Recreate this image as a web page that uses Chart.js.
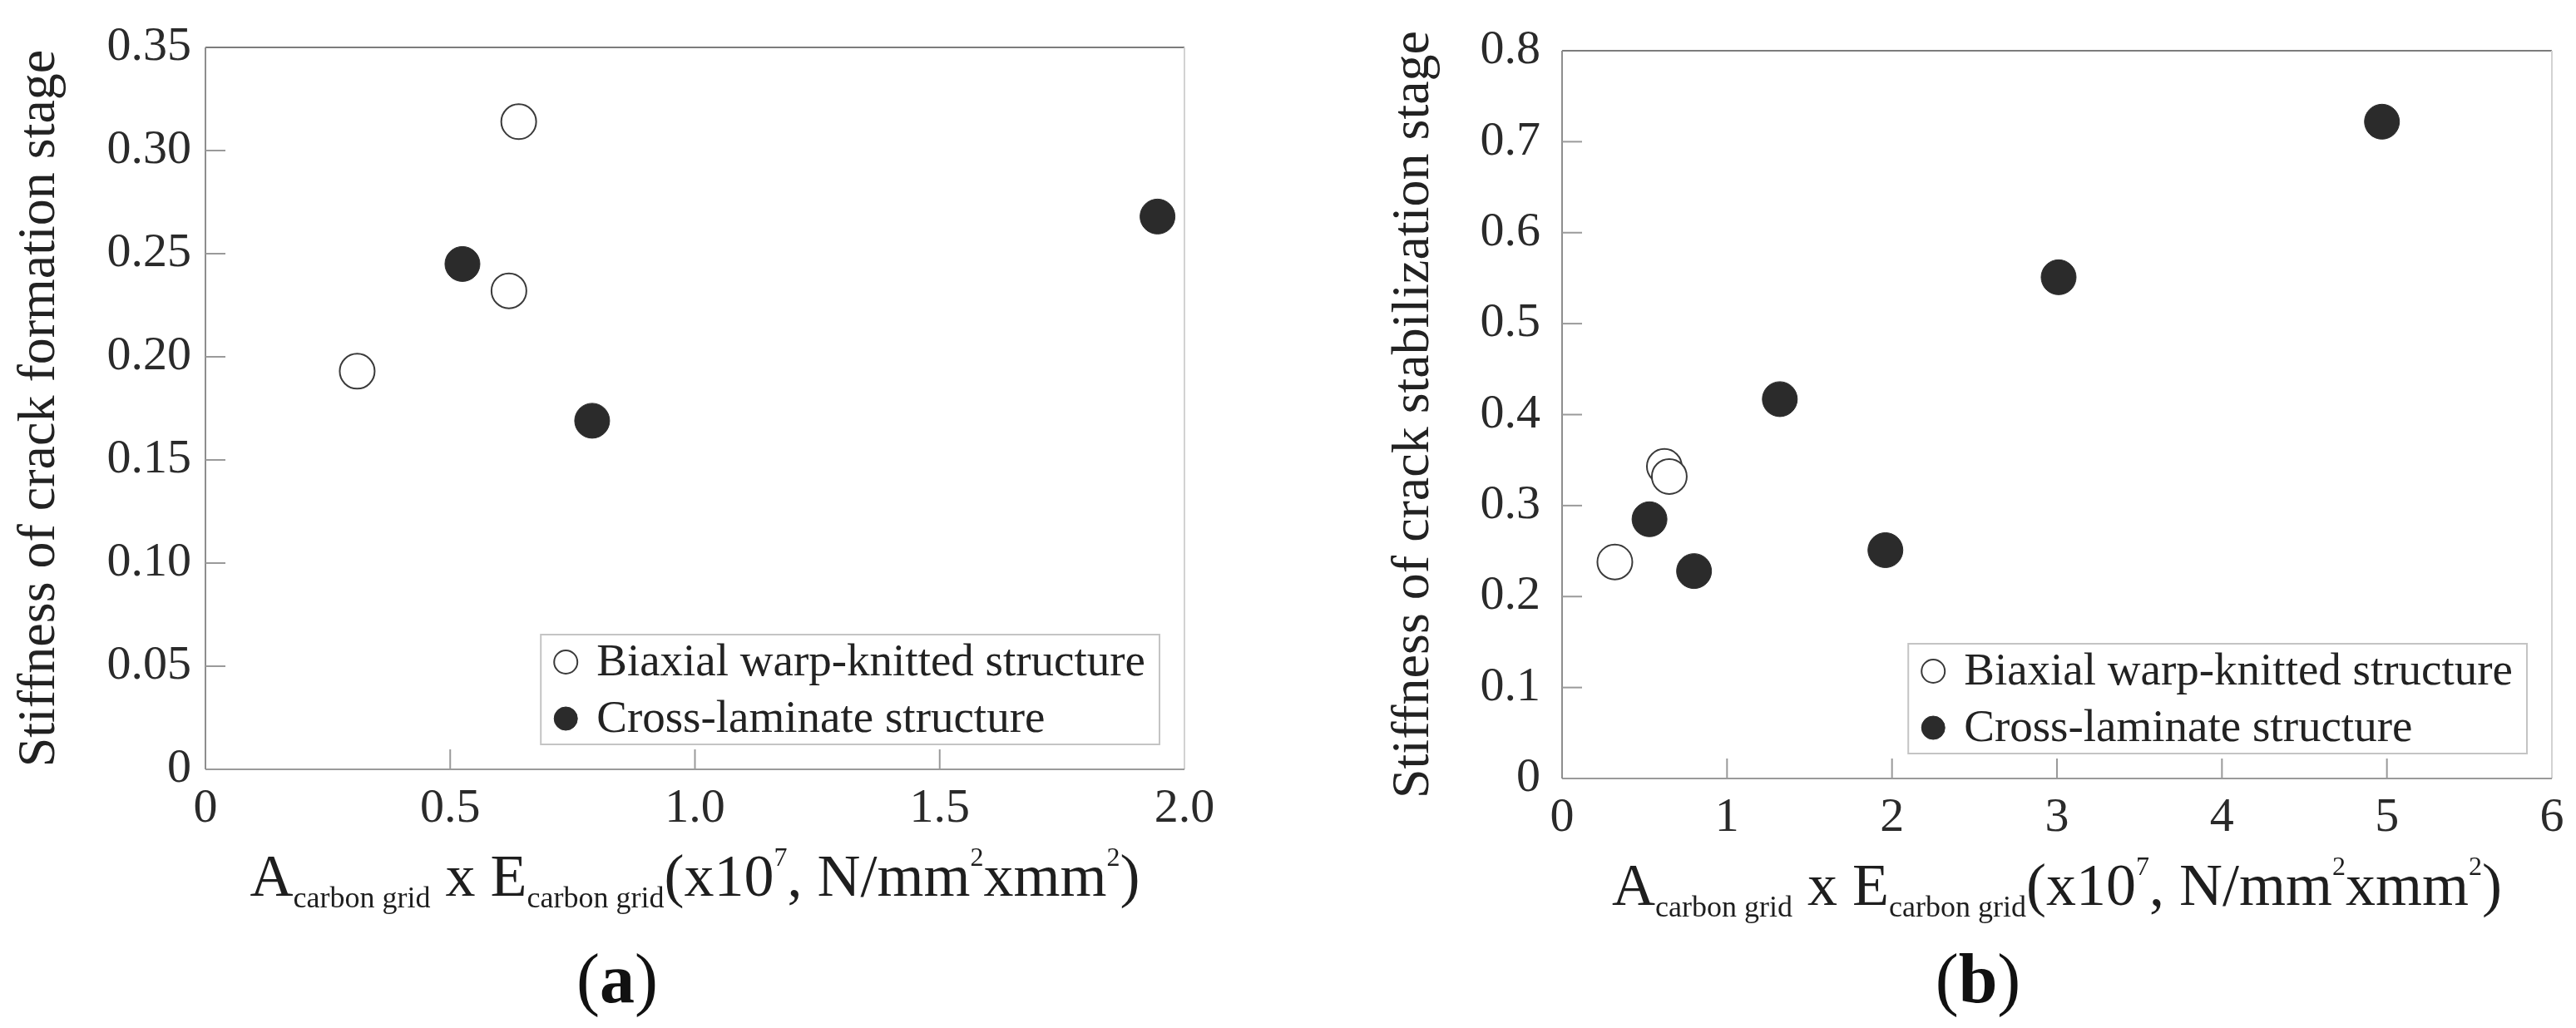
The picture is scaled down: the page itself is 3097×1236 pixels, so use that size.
<!DOCTYPE html>
<html>
<head>
<meta charset="utf-8">
<script src="https://cdn.jsdelivr.net/npm/chart.js@4.4.1/dist/chart.umd.min.js"></script>
<style>
  html, body { margin: 0; padding: 0; background: #fff; }
  #wrapA { position: absolute; left: 0; top: 0; width: 1548px; height: 1236px; }
  #wrapB { position: absolute; left: 1548px; top: 0; width: 1549px; height: 1236px; }
</style>
</head>
<body>
<div id="wrapA"><canvas id="chartA"></canvas></div>
<div id="wrapB"><canvas id="chartB"></canvas></div>
<script>
// series labels
const seriesNames = ['Biaxial warp-knitted structure', 'Cross-laminate structure'];

// panel (a): stiffness of crack formation stage
const biaxAx = [0.31, 0.62, 0.64];
const biaxAy = [0.193, 0.232, 0.314];
const crossAx = [0.525, 0.79, 1.945];
const crossAy = [0.245, 0.169, 0.268];

// panel (b): stiffness of crack stabilization stage
const biaxBx = [0.32, 0.62, 0.65];
const biaxBy = [0.238, 0.343, 0.332];
const crossBx = [0.53, 0.80, 1.32, 1.96, 3.01, 4.97];
const crossBy = [0.285, 0.228, 0.417, 0.251, 0.551, 0.722];

// tick values / labels
const xTickValsA = [0, 0.5, 1.0, 1.5, 2.0];
const xTickLabelsA = ['0', '0.5', '1.0', '1.5', '2.0'];
const yTickValsA = [0, 0.05, 0.10, 0.15, 0.20, 0.25, 0.30, 0.35];
const yTickLabelsA = ['0', '0.05', '0.10', '0.15', '0.20', '0.25', '0.30', '0.35'];
const xTickValsB = [0, 1, 2, 3, 4, 5, 6];
const xTickLabelsB = ['0', '1', '2', '3', '4', '5', '6'];
const yTickValsB = [0, 0.1, 0.2, 0.3, 0.4, 0.5, 0.6, 0.7, 0.8];
const yTickLabelsB = ['0', '0.1', '0.2', '0.3', '0.4', '0.5', '0.6', '0.7', '0.8'];

const serif = '"Liberation Serif", "Times New Roman", serif';

function points(xs, ys) {
  return xs.map((x, i) => ({ x: x, y: ys[i] }));
}

function openSet(xs, ys) {
  return {
    label: seriesNames[0],
    data: points(xs, ys),
    pointRadius: 21,
    pointHoverRadius: 21,
    backgroundColor: '#ffffff',
    borderColor: '#3a3a3a',
    borderWidth: 2
  };
}

function filledSet(xs, ys) {
  return {
    label: seriesNames[1],
    data: points(xs, ys),
    pointRadius: 21,
    pointHoverRadius: 21,
    backgroundColor: '#2b2b2b',
    borderColor: '#2b2b2b',
    borderWidth: 1
  };
}

// draws the box frame, inward ticks, legend, x title with sub/superscripts and the panel letter
function panelPlugin(p) {
  return {
    id: 'panel' + p.letter,
    beforeDatasetsDraw(chart) {
      const ctx = chart.ctx, a = chart.chartArea;
      const xs = chart.scales.x, ys = chart.scales.y;
      ctx.save();
      ctx.lineWidth = 2;
      function seg(c, x1, y1, x2, y2) {
        ctx.strokeStyle = c;
        ctx.beginPath(); ctx.moveTo(x1, y1); ctx.lineTo(x2, y2); ctx.stroke();
      }
      seg('#7c7c7c', a.left, a.top, a.right, a.top);
      seg('#d2d2d2', a.right, a.top, a.right, a.bottom);
      seg('#9a9a9a', a.left, a.bottom, a.right, a.bottom);
      seg('#8e8e8e', a.left, a.top, a.left, a.bottom);
      xs.ticks.forEach(t => {
        if (t.value > xs.min && t.value < xs.max) {
          const px = xs.getPixelForValue(t.value);
          seg('#9a9a9a', px, a.bottom, px, a.bottom - 24);
        }
      });
      ys.ticks.forEach(t => {
        if (t.value > ys.min && t.value < ys.max) {
          const py = ys.getPixelForValue(t.value);
          seg('#9a9a9a', a.left, py, a.left + 24, py);
        }
      });
      ctx.restore();
    },
    afterDraw(chart) {
      const ctx = chart.ctx, a = chart.chartArea;
      ctx.save();

      // legend
      ctx.font = '55px ' + serif;
      const sets = chart.data.datasets;
      const tw = Math.max.apply(null, sets.map(d => ctx.measureText(d.label).width));
      const boxW = 30 + 37 + tw + 17;
      const boxH = 33 + 68 + 31;
      const bx = a.right - 30 - boxW, by = a.bottom - 30 - boxH;
      ctx.strokeStyle = '#c4c4c4';
      ctx.lineWidth = 2;
      ctx.strokeRect(bx, by, boxW, boxH);
      sets.forEach((d, i) => {
        const cy = by + 33 + i * 68;
        ctx.beginPath();
        ctx.arc(bx + 30, cy, 14, 0, Math.PI * 2);
        ctx.fillStyle = d.backgroundColor;
        ctx.fill();
        ctx.lineWidth = d.borderWidth;
        ctx.strokeStyle = d.borderColor;
        ctx.stroke();
        ctx.fillStyle = '#222';
        ctx.textAlign = 'left';
        ctx.textBaseline = 'middle';
        ctx.fillText(d.label, bx + 67, cy + 2);
      });

      // x axis title
      const parts = [
        ['A', 'm'], ['carbon grid', 'sub'], [' x E', 'm'], ['carbon grid', 'sub'],
        ['(x10', 'm'], ['7', 'sup'], [', N/mm', 'm'], ['2', 'sup'], ['xmm', 'm'], ['2', 'sup'], [')', 'm']
      ];
      const size = { m: 72, sub: 36, sup: 32 };
      const shift = { m: 0, sub: 14, sup: -36 };
      let total = 0;
      parts.forEach(q => { ctx.font = size[q[1]] + 'px ' + serif; total += ctx.measureText(q[0]).width; });
      let x = (a.left + a.right) / 2 - total / 2;
      const base = a.bottom + 152;
      ctx.fillStyle = '#1e1e1e';
      ctx.textAlign = 'left';
      ctx.textBaseline = 'alphabetic';
      parts.forEach(q => {
        ctx.font = size[q[1]] + 'px ' + serif;
        ctx.fillText(q[0], x, base + shift[q[1]]);
        x += ctx.measureText(q[0]).width;
      });

      // panel letter
      const lab = [['(', 'normal'], [p.letter, 'bold'], [')', 'normal']];
      let lw = 0;
      lab.forEach(q => { ctx.font = q[1] + ' 84px ' + serif; lw += ctx.measureText(q[0]).width; });
      let lx = p.labelX - lw / 2;
      ctx.fillStyle = '#111';
      lab.forEach(q => {
        ctx.font = q[1] + ' 84px ' + serif;
        ctx.fillText(q[0], lx, p.labelY);
        lx += ctx.measureText(q[0]).width;
      });
      ctx.restore();
    }
  };
}

function makeChart(id, p) {
  const ctx = document.getElementById(id);
  return new Chart(ctx, {
    type: 'scatter',
    data: {
      datasets: [openSet(p.bx, p.by), filledSet(p.cx, p.cy)]
    },
    options: {
      responsive: true,
      maintainAspectRatio: false,
      animation: false,
      events: [],
      layout: { padding: { left: 0, top: p.top, right: p.right, bottom: 0 } },
      plugins: { legend: { display: false }, tooltip: { enabled: false } },
      scales: {
        x: {
          type: 'linear',
          min: p.xVals[0],
          max: p.xVals[p.xVals.length - 1],
          grid: { display: false, drawTicks: false },
          border: { display: false },
          afterBuildTicks: s => { s.ticks = p.xVals.map(v => ({ value: v })); },
          afterFit: s => { s.height = p.xHeight; },
          ticks: {
            padding: 13,
            maxRotation: 0,
            color: '#2a2a2a',
            font: { family: serif, size: 58 },
            callback: (v, i) => p.xLabels[i]
          }
        },
        y: {
          type: 'linear',
          min: p.yVals[0],
          max: p.yVals[p.yVals.length - 1],
          grid: { display: false, drawTicks: false },
          border: { display: false },
          afterBuildTicks: s => { s.ticks = p.yVals.map(v => ({ value: v })); },
          afterFit: s => { s.width = p.yWidth; },
          ticks: {
            padding: p.yPad,
            color: '#2a2a2a',
            font: { family: serif, size: 58 },
            callback: (v, i) => p.yLabels[i]
          },
          title: {
            display: true,
            text: p.yTitle,
            color: '#222',
            font: { family: serif, size: 64 },
            padding: { top: p.titlePad, bottom: 0 }
          }
        }
      }
    },
    plugins: [panelPlugin(p)]
  });
}

makeChart('chartA', {
  letter: 'a',
  bx: biaxAx, by: biaxAy, cx: crossAx, cy: crossAy,
  xVals: xTickValsA, xLabels: xTickLabelsA,
  yVals: yTickValsA, yLabels: yTickLabelsA,
  yTitle: 'Stiffness of crack formation stage',
  top: 57, right: 124, yWidth: 247, xHeight: 311, yPad: 17, titlePad: 10,
  labelX: 742, labelY: 1205
});

makeChart('chartB', {
  letter: 'b',
  bx: biaxBx, by: biaxBy, cx: crossBx, cy: crossBy,
  xVals: xTickValsB, xLabels: xTickLabelsB,
  yVals: yTickValsB, yLabels: yTickLabelsB,
  yTitle: 'Stiffness of crack stabilization stage',
  top: 61, right: 29, yWidth: 330, xHeight: 300, yPad: 26, titlePad: 114,
  labelX: 830, labelY: 1205
});
</script>
</body>
</html>
